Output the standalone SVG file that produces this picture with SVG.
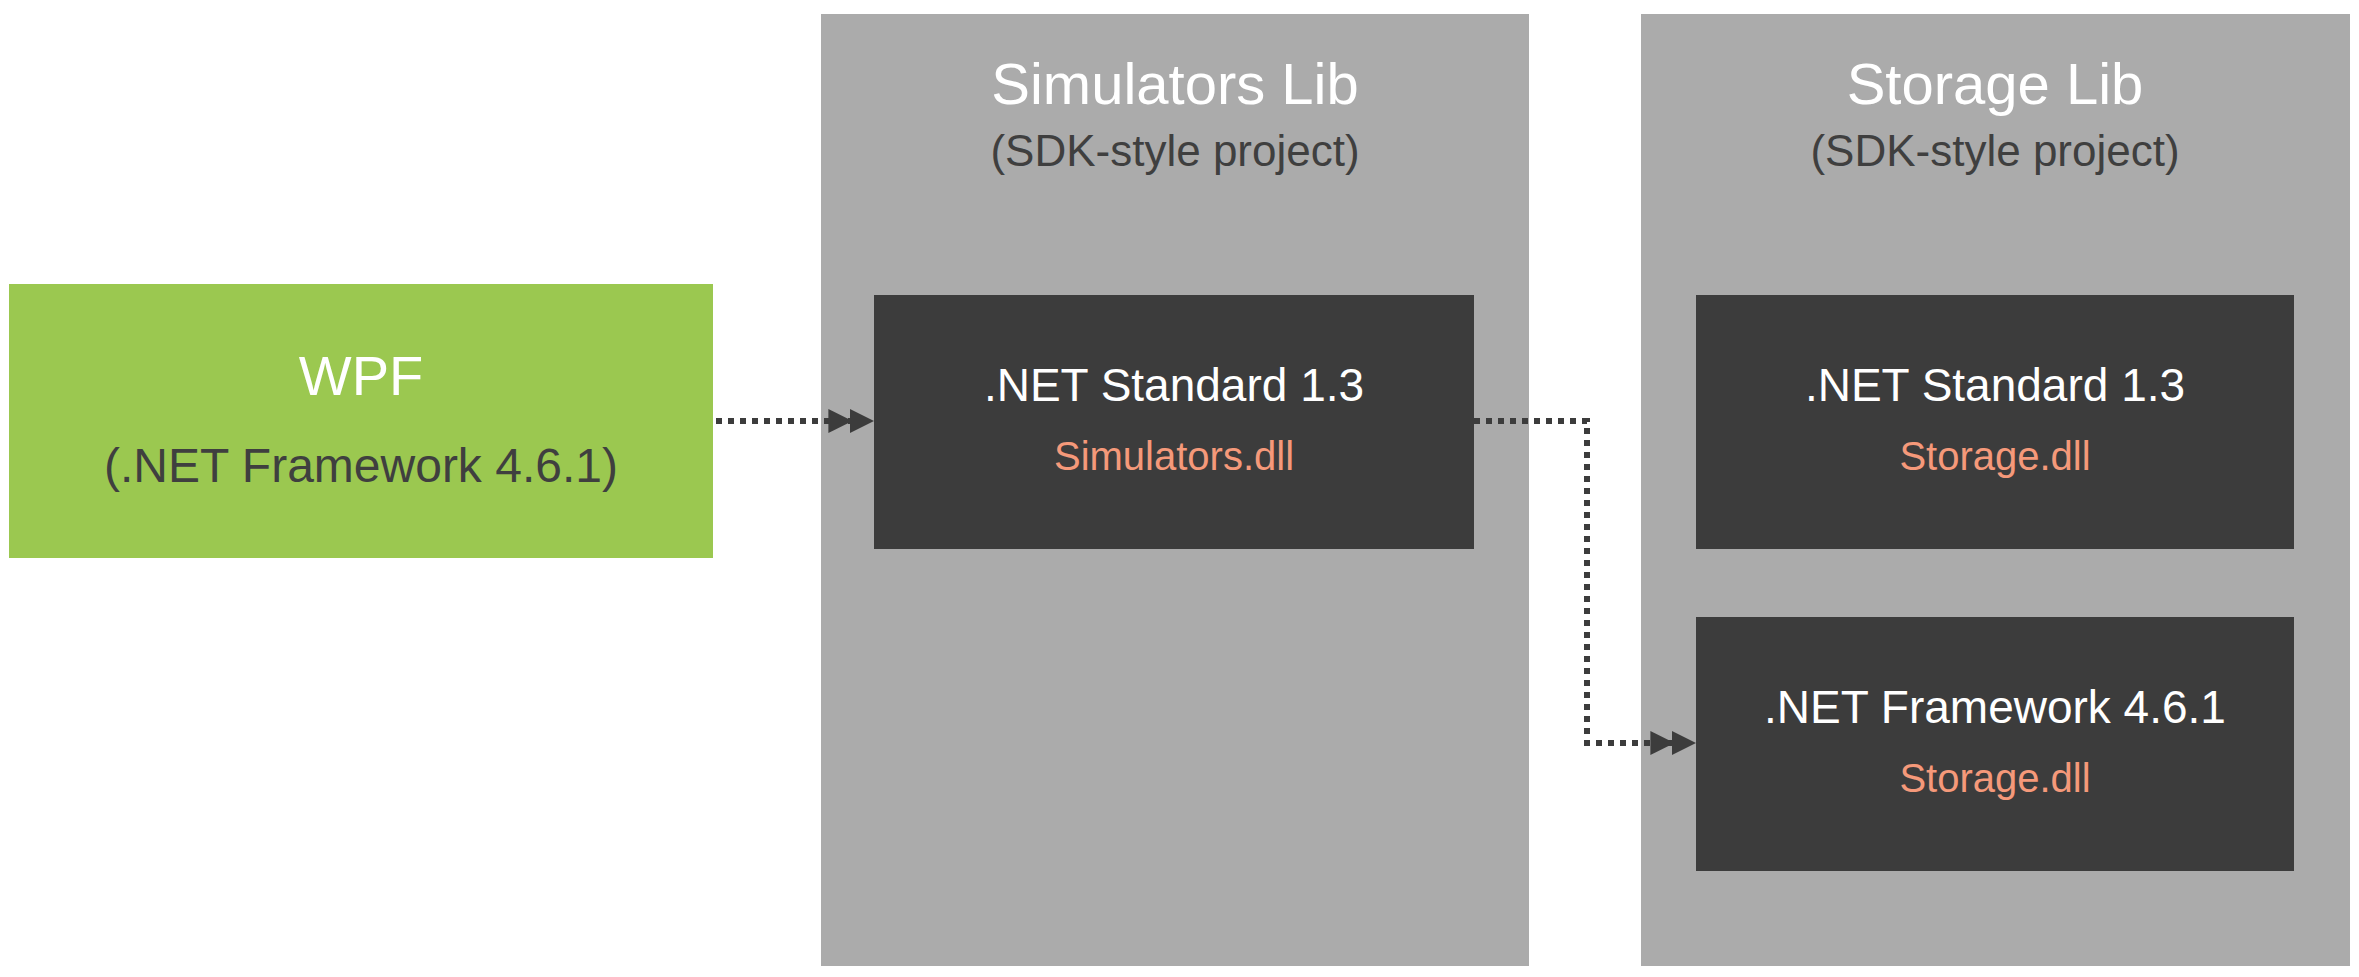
<svg xmlns="http://www.w3.org/2000/svg" width="2359" height="977" viewBox="0 0 2359 977">
<style>
.panel{fill:#ABABAB}
.dark{fill:#3C3C3C}
.t{font-family:"Liberation Sans",Arial,sans-serif;text-anchor:middle}
.w{fill:#FFFFFF}
.g{fill:#3F3F3F}
.dll{fill:#F5997A;font-size:40px}
.conn{fill:none;stroke:#3C3C3C;stroke-width:6;stroke-dasharray:6 6}
</style>
<defs><marker id="ah" markerWidth="8" markerHeight="8" refX="7" refY="4" orient="auto" markerUnits="userSpaceOnUse" viewBox="0 0 8 8"><path d="M0,0 L8,4 L0,8 z" fill="#3C3C3C"/></marker>
<marker id="a" viewBox="0 0 10 10" refX="9" refY="5" markerWidth="24" markerHeight="24" markerUnits="userSpaceOnUse" orient="auto"><path d="M0,0 L10,5 L0,10 z" fill="#3C3C3C"/></marker></defs>
<rect width="2359" height="977" fill="#FFFFFF"/>
<g id="wpf"><rect x="9" y="284" width="704" height="274" fill="#9BC850"/>
<text class="t w" x="361" y="395" font-size="56">WPF</text>
<text class="t g" x="361" y="482" font-size="48">(.NET Framework 4.6.1)</text></g>
<g id="simlib"><rect class="panel" x="821" y="14" width="708" height="952"/>
<text class="t w" x="1175" y="104" font-size="58">Simulators Lib</text>
<text class="t g" x="1175" y="166" font-size="44">(SDK-style project)</text></g>
<g id="storlib"><rect class="panel" x="1641" y="14" width="709" height="952"/>
<text class="t w" x="1995" y="104" font-size="58">Storage Lib</text>
<text class="t g" x="1995" y="166" font-size="44">(SDK-style project)</text></g>
<g id="simstd"><rect class="dark" x="874" y="295" width="600" height="254"/>
<text class="t w" x="1174" y="401" font-size="46">.NET Standard 1.3</text>
<text class="t dll" x="1174" y="470">Simulators.dll</text></g>
<g id="storstd"><rect class="dark" x="1696" y="295" width="598" height="254"/>
<text class="t w" x="1995" y="401" font-size="46">.NET Standard 1.3</text>
<text class="t dll" x="1995" y="470">Storage.dll</text></g>
<g id="storfw"><rect class="dark" x="1696" y="617" width="598" height="254"/>
<text class="t w" x="1995" y="723" font-size="46">.NET Framework 4.6.1</text>
<text class="t dll" x="1995" y="792">Storage.dll</text></g>
<g id="connectors">
<path class="conn" d="M716,421 H850" marker-end="url(#a)"/>
<path class="conn" d="M1474,421 H1587 V743 H1672" marker-end="url(#a)"/>
<path d="M850,409 L874,421 L850,433 z" fill="#3C3C3C"/>
<path d="M1672,731 L1696,743 L1672,755 z" fill="#3C3C3C"/>
</g>
</svg>
